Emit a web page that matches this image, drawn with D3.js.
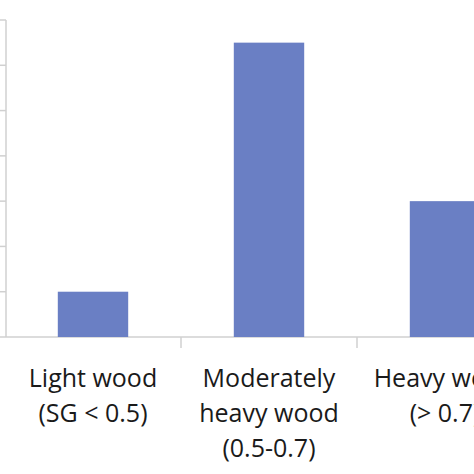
<!DOCTYPE html><html><head><meta charset="utf-8"><script src="https://cdn.jsdelivr.net/npm/d3@7"></script>
<style>body{margin:0;background:#fff}</style></head><body><svg id="c" width="474" height="474"></svg>
<script>
const categories=[["Light wood","(SG < 0.5)"],["Moderately","heavy wood","(0.5-0.7)"],["Heavy wood","(> 0.7)"]];
const values=[1,6.5,3];
const yTicks=[0,1,2,3,4,5,6,7];
const svg=d3.select("#c");
const x=d3.scaleBand().domain([0,1,2]).range([5,533]).paddingInner(0.6).paddingOuter(0.3);
const y=d3.scaleLinear().domain([0,7]).range([337,20]);
svg.append("line").attr("x1",6).attr("x2",474).attr("y1",y(0)).attr("y2",y(0)).attr("stroke","#d0d0d0").attr("stroke-width",1.5);
svg.append("line").attr("x1",6).attr("x2",6).attr("y1",y(7)).attr("y2",y(0)).attr("stroke","#d0d0d0").attr("stroke-width",1.5);
yTicks.forEach(t=>svg.append("line").attr("x1",0).attr("x2",6).attr("y1",y(t)).attr("y2",y(t)).attr("stroke","#d0d0d0").attr("stroke-width",1.5));
[1,2].forEach(i=>{const xx=x(i)-x.step()*x.paddingInner()/2;svg.append("line").attr("x1",xx).attr("x2",xx).attr("y1",y(0)).attr("y2",y(0)+11).attr("stroke","#d0d0d0").attr("stroke-width",1.5);});
svg.selectAll("rect.b").data(values).join("rect").attr("x",(d,i)=>x(i)).attr("width",x.bandwidth()).attr("y",d=>y(d)).attr("height",d=>y(0)-y(d)).attr("fill","#6a7fc4");
categories.forEach((lines,i)=>{lines.forEach((l,j)=>svg.append("text").attr("x",x(i)+x.bandwidth()/2).attr("y",387+j*35).attr("text-anchor","middle").attr("font-family","'Open Sans', sans-serif").attr("font-size",25).attr("fill","#1a1a1a").text(l));});
</script></body></html>
